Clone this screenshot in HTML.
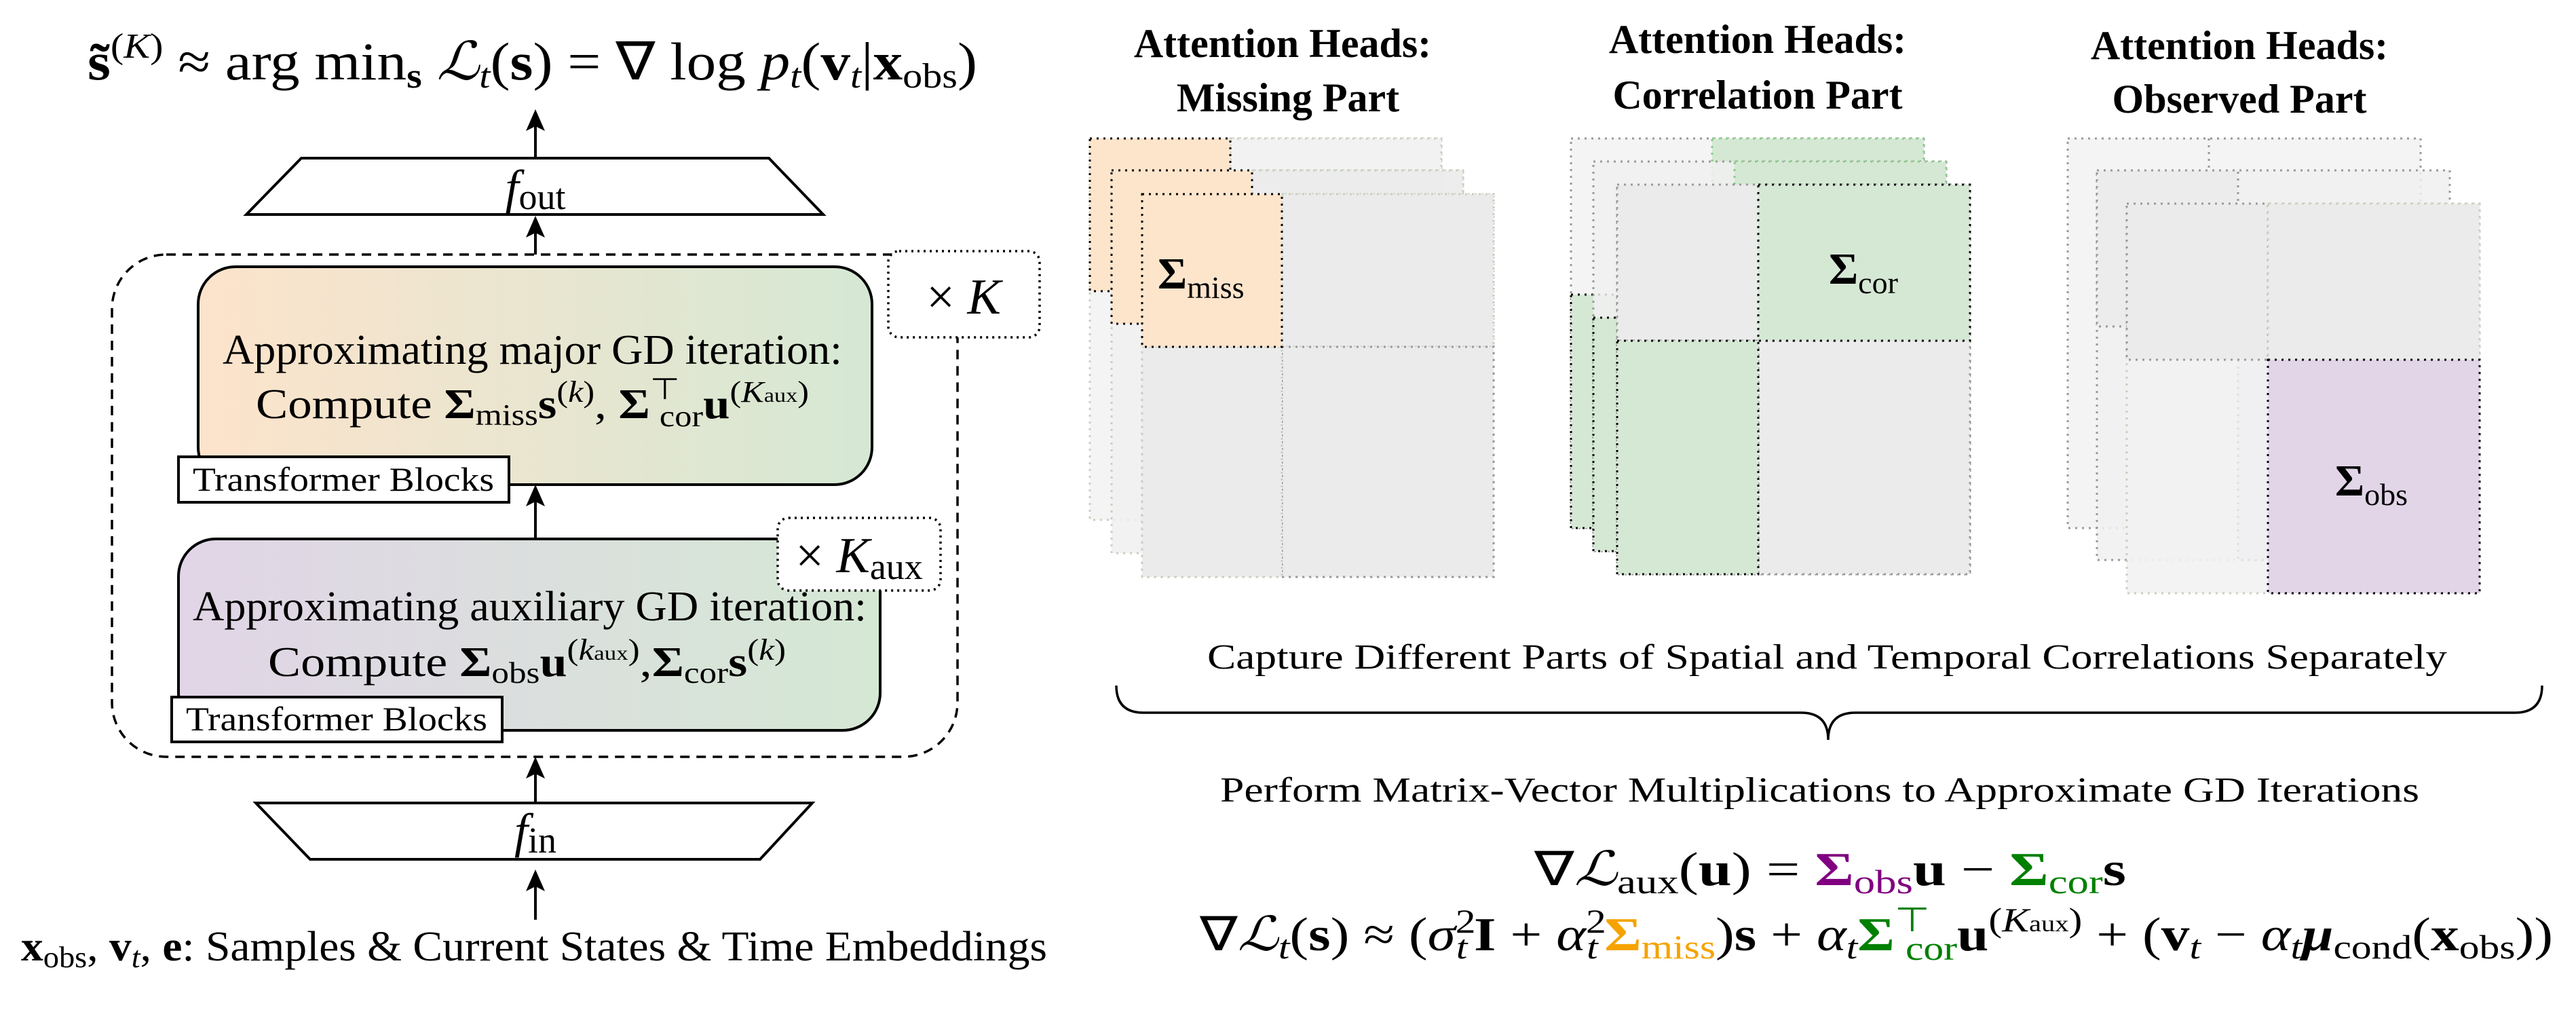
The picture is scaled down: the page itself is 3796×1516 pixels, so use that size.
<!DOCTYPE html>
<html><head><meta charset="utf-8"><style>html,body{margin:0;padding:0;background:#fff}svg{display:block}text{font-family:"Liberation Serif",serif;fill:#000}</style></head><body>
<svg width="3796" height="1516" viewBox="0 0 3796 1516" xmlns="http://www.w3.org/2000/svg">
<defs>
<linearGradient id="g1" x1="0" x2="1" y1="0" y2="0"><stop offset="0" stop-color="#fde3cb"/><stop offset="1" stop-color="#d5e8d4"/></linearGradient>
<linearGradient id="g2" x1="0" x2="1" y1="0" y2="0"><stop offset="0" stop-color="#e1d5e7"/><stop offset="1" stop-color="#d5e8d4"/></linearGradient>
</defs>

<!-- Title -->
<text x="129" y="117" font-size="78" textLength="1311" lengthAdjust="spacingAndGlyphs"><tspan font-weight="bold">s̃</tspan><tspan dy="-32" font-size="52">(</tspan><tspan font-size="52" font-style="italic">K</tspan><tspan font-size="52">)</tspan><tspan dy="32"> ≈ arg min</tspan><tspan dy="12" font-size="52" font-weight="bold">s</tspan><tspan dy="-12" font-style="italic"> ℒ</tspan><tspan dy="12" font-size="52" font-style="italic">t</tspan><tspan dy="-12">(</tspan><tspan font-weight="bold">s</tspan><tspan>) = ∇ log </tspan><tspan font-style="italic">p</tspan><tspan dy="12" font-size="52" font-style="italic">t</tspan><tspan dy="-12">(</tspan><tspan font-weight="bold">v</tspan><tspan dy="12" font-size="52" font-style="italic">t</tspan><tspan dy="-12">|</tspan><tspan font-weight="bold">x</tspan><tspan dy="12" font-size="52">obs</tspan><tspan dy="-12">)</tspan></text>

<g stroke="#000" stroke-width="4" fill="none">
<line x1="789" y1="233" x2="789" y2="185"/>
<line x1="789" y1="375" x2="789" y2="342"/>
<line x1="789" y1="794" x2="789" y2="738"/>
<line x1="789" y1="1183" x2="789" y2="1140"/>
<line x1="789" y1="1355" x2="789" y2="1306"/>
</g>
<g fill="#000">
<polygon points="789,161 775,193 789,186 803,193"/>
<polygon points="789,318 775,350 789,343 803,350"/>
<polygon points="789,714 775,746 789,739 803,746"/>
<polygon points="789,1115 775,1147 789,1140 803,1147"/>
<polygon points="789,1281 775,1313 789,1306 803,1313"/>
</g>

<!-- f_out -->
<polygon points="444,233 1133,233 1213,316 363,316" fill="#fff" stroke="#000" stroke-width="4"/>
<text x="789" y="300" font-size="72" text-anchor="middle"><tspan font-style="italic">f</tspan><tspan dy="8" font-size="54">out</tspan></text>

<!-- dashed container -->
<rect x="165" y="375" width="1246" height="740" rx="80" fill="none" stroke="#000" stroke-width="3.5" stroke-dasharray="14 10"/>
<rect x="1309" y="370" width="223" height="127" rx="16" fill="#fff" stroke="#000" stroke-width="3.5" stroke-dasharray="3 6"/>
<text x="1420" y="462" font-size="74" text-anchor="middle">× <tspan font-style="italic">K</tspan></text>

<!-- upper box -->
<rect x="292" y="393" width="993" height="321" rx="55" fill="url(#g1)" stroke="#000" stroke-width="4"/>
<text x="328" y="536" font-size="62" textLength="913" lengthAdjust="spacingAndGlyphs">Approximating major GD iteration:</text>
<text x="377" y="616" font-size="62" textLength="815" lengthAdjust="spacingAndGlyphs">Compute <tspan font-weight="bold">Σ</tspan><tspan dy="10" font-size="44">miss</tspan><tspan dy="-10" font-weight="bold">s</tspan><tspan dy="-24" font-size="44">(</tspan><tspan font-size="44" font-style="italic">k</tspan><tspan font-size="44">)</tspan><tspan dy="24">, </tspan><tspan font-weight="bold">Σ</tspan><tspan dy="-28" font-size="44">⊤</tspan><tspan dx="-26" dy="40" font-size="44">cor</tspan><tspan dy="-12" font-weight="bold">u</tspan><tspan dy="-24" font-size="44">(</tspan><tspan font-size="44" font-style="italic">K</tspan><tspan font-size="30">aux</tspan><tspan font-size="44">)</tspan></text>
<rect x="263" y="673" width="487" height="67" fill="#fff" stroke="#000" stroke-width="4"/>
<text x="284" y="723" font-size="50" textLength="444" lengthAdjust="spacingAndGlyphs">Transformer Blocks</text>

<!-- lower box -->
<rect x="263" y="794" width="1034" height="282" rx="55" fill="url(#g2)" stroke="#000" stroke-width="4"/>
<rect x="1146" y="763" width="240" height="107" rx="16" fill="#fff" stroke="#000" stroke-width="3.5" stroke-dasharray="3 6"/>
<text x="1266" y="843" font-size="74" text-anchor="middle">× <tspan font-style="italic">K</tspan><tspan dy="10" font-size="54">aux</tspan></text>
<text x="284" y="914" font-size="62" textLength="993" lengthAdjust="spacingAndGlyphs">Approximating auxiliary GD iteration:</text>
<text x="395" y="996" font-size="62" textLength="763" lengthAdjust="spacingAndGlyphs">Compute <tspan font-weight="bold">Σ</tspan><tspan dy="10" font-size="44">obs</tspan><tspan dy="-10" font-weight="bold">u</tspan><tspan dy="-24" font-size="44">(</tspan><tspan font-size="44" font-style="italic">k</tspan><tspan font-size="30">aux</tspan><tspan font-size="44">)</tspan><tspan dy="24">,</tspan><tspan font-weight="bold">Σ</tspan><tspan dy="10" font-size="44">cor</tspan><tspan dy="-10" font-weight="bold">s</tspan><tspan dy="-24" font-size="44">(</tspan><tspan font-size="44" font-style="italic">k</tspan><tspan font-size="44">)</tspan></text>
<rect x="253" y="1027" width="487" height="66" fill="#fff" stroke="#000" stroke-width="4"/>
<text x="274" y="1076" font-size="50" textLength="444" lengthAdjust="spacingAndGlyphs">Transformer Blocks</text>

<!-- f_in -->
<polygon points="377,1183 1197,1183 1120,1266 457,1266" fill="#fff" stroke="#000" stroke-width="4"/>
<text x="789" y="1248" font-size="72" text-anchor="middle"><tspan font-style="italic">f</tspan><tspan dy="8" font-size="54">in</tspan></text>

<text x="31" y="1415" font-size="62" textLength="1512" lengthAdjust="spacingAndGlyphs"><tspan font-weight="bold">x</tspan><tspan dy="10" font-size="44">obs</tspan><tspan dy="-10">, </tspan><tspan font-weight="bold">v</tspan><tspan dy="10" font-size="44" font-style="italic">t</tspan><tspan dy="-10">, </tspan><tspan font-weight="bold">e</tspan><tspan>: Samples &amp; Current States &amp; Time Embeddings</tspan></text>

<!-- headings -->
<g font-weight="bold" font-size="60" text-anchor="middle">
<text x="1890" y="84">Attention Heads:</text>
<text x="1898" y="164">Missing Part</text>
<text x="2590" y="78">Attention Heads:</text>
<text x="2590" y="160">Correlation Part</text>
<text x="3300" y="87">Attention Heads:</text>
<text x="3300" y="166">Observed Part</text>
</g>

<g stroke-width="3" stroke-dasharray="3 7">
<!-- Group 1 -->
<g>
<rect x="1606" y="204" width="518" height="562" fill="#f4f4f4" stroke="#c8d0c0"/>
<rect x="1813" y="204" width="311" height="225" fill="#f2f2f2" stroke="#c8d0c0"/>
<rect x="1606" y="204" width="207" height="225" fill="#fde5cc" stroke="#000"/>
</g>
<g>
<rect x="1638" y="251" width="518" height="564" fill="#f0f0f0" fill-opacity="0.85" stroke="#c8d0c0"/>
<rect x="1845" y="251" width="311" height="226" fill="#ebebeb" fill-opacity="0.8" stroke="#c8d0c0"/>
<line x1="1845" y1="477" x2="1845" y2="815" stroke="#999"/>
<rect x="1638" y="251" width="207" height="226" fill="#fde5cc" stroke="#000"/>
</g>
<g>
<rect x="1683" y="286" width="518" height="564" fill="#f2f2f2" fill-opacity="0.85" stroke="#c8d0c0"/>
<rect x="1889" y="286" width="312" height="225" fill="#ebebeb" stroke="#c8d0c0"/>
<rect x="1889" y="511" width="312" height="339" fill="#ebebeb" stroke="#999"/>
<rect x="1683" y="511" width="206" height="339" fill="#ebebeb" stroke="#c8d0c0"/>
<rect x="1683" y="286" width="206" height="225" fill="#fde5cc" stroke="#000"/>
</g>

<!-- Group 2 -->
<g>
<rect x="2315" y="204" width="520" height="574" fill="#f4f4f4" stroke="#999"/>
<rect x="2523" y="204" width="312" height="230" fill="#d5e8d4" stroke="#8c8"/>
<rect x="2315" y="434" width="208" height="344" fill="#d5e8d4" stroke="#000"/>
</g>
<g>
<rect x="2348" y="238" width="520" height="574" fill="#f0f0f0" fill-opacity="0.85" stroke="#999"/>
<rect x="2556" y="238" width="312" height="230" fill="#d5e8d4" stroke="#8c8"/>
<rect x="2348" y="468" width="208" height="344" fill="#d5e8d4" stroke="#000"/>
</g>
<g>
<rect x="2383" y="272" width="520" height="574" fill="#f2f2f2" stroke="#999"/>
<rect x="2383" y="272" width="208" height="230" fill="#ebebeb" stroke="#999"/>
<rect x="2591" y="502" width="312" height="344" fill="#ebebeb" stroke="#999"/>
<rect x="2591" y="272" width="312" height="230" fill="#d5e8d4" stroke="#000"/>
<rect x="2383" y="502" width="208" height="344" fill="#d5e8d4" stroke="#000"/>
</g>

<!-- Group 3 -->
<g>
<rect x="3047" y="204" width="520" height="574" fill="#f4f4f4" stroke="#999"/>
<line x1="3255" y1="204" x2="3255" y2="434" stroke="#999"/>
<rect x="3255" y="434" width="312" height="344" fill="#e5dde9" stroke="#c8c0cc"/>
</g>
<g>
<rect x="3090" y="251" width="520" height="574" fill="#f0f0f0" fill-opacity="0.85" stroke="#999"/>
<rect x="3090" y="251" width="208" height="230" fill="#ececec" stroke="#999"/>
<rect x="3298" y="481" width="312" height="344" fill="#e2d8e8" stroke="#444"/>
</g>
<g>
<rect x="3134" y="300" width="520" height="574" fill="#f2f2f2" fill-opacity="0.9" stroke="#c8d0c0"/>
<rect x="3134" y="300" width="208" height="230" fill="#ebebeb" stroke="#999"/>
<rect x="3342" y="300" width="312" height="230" fill="#ebebeb" stroke="#c8d0c0"/>
<rect x="3342" y="530" width="312" height="344" fill="#e1d5e7" stroke="#000"/>
</g>
</g>

<text x="1706" y="425" font-size="66"><tspan font-weight="bold">Σ</tspan><tspan dy="14" font-size="46">miss</tspan></text>
<text x="2695" y="418" font-size="66"><tspan font-weight="bold">Σ</tspan><tspan dy="14" font-size="46">cor</tspan></text>
<text x="3441" y="730" font-size="66"><tspan font-weight="bold">Σ</tspan><tspan dy="14" font-size="46">obs</tspan></text>

<text x="1779" y="985" font-size="52" textLength="1827" lengthAdjust="spacingAndGlyphs">Capture Different Parts of Spatial and Temporal Correlations Separately</text>
<path d="M1645,1010 Q1645,1050 1685,1050 L2654,1050 Q2694,1050 2694,1090 Q2694,1050 2734,1050 L3706,1050 Q3746,1050 3746,1010" fill="none" stroke="#000" stroke-width="3.5"/>
<text x="1798" y="1181" font-size="52" textLength="1767" lengthAdjust="spacingAndGlyphs">Perform Matrix-Vector Multiplications to Approximate GD Iterations</text>

<text x="2261" y="1304" font-size="70" textLength="872" lengthAdjust="spacingAndGlyphs">∇<tspan font-style="italic">ℒ</tspan><tspan dy="12" font-size="50">aux</tspan><tspan dy="-12">(</tspan><tspan font-weight="bold">u</tspan>) = <tspan font-weight="bold" fill="#800080">Σ</tspan><tspan dy="12" font-size="50" fill="#800080">obs</tspan><tspan dy="-12" font-weight="bold">u</tspan> − <tspan font-weight="bold" fill="#008000">Σ</tspan><tspan dy="12" font-size="50" fill="#008000">cor</tspan><tspan dy="-12" font-weight="bold">s</tspan></text>

<text x="1768" y="1400" font-size="70" textLength="1994" lengthAdjust="spacingAndGlyphs">∇<tspan font-style="italic">ℒ</tspan><tspan dy="12" font-size="50" font-style="italic">t</tspan><tspan dy="-12">(</tspan><tspan font-weight="bold">s</tspan>) ≈ (<tspan font-style="italic">σ</tspan><tspan dy="-26" font-size="50">2</tspan><tspan dx="-24" dy="38" font-size="50" font-style="italic">t</tspan><tspan dy="-12" dx="8" font-weight="bold">I</tspan> + <tspan font-style="italic">α</tspan><tspan dy="-26" font-size="50">2</tspan><tspan dx="-24" dy="38" font-size="50" font-style="italic">t</tspan><tspan dy="-12" dx="8" font-weight="bold" fill="#f5a300">Σ</tspan><tspan dy="12" font-size="50" fill="#f5a300">miss</tspan><tspan dy="-12">)</tspan><tspan font-weight="bold">s</tspan> + <tspan font-style="italic">α</tspan><tspan dy="12" font-size="50" font-style="italic">t</tspan><tspan dy="-12" font-weight="bold" fill="#008000">Σ</tspan><tspan dy="-28" font-size="50" fill="#008000">⊤</tspan><tspan dx="-30" dy="42" font-size="50" fill="#008000">cor</tspan><tspan dy="-14" font-weight="bold">u</tspan><tspan dy="-28" font-size="50">(</tspan><tspan font-size="50" font-style="italic">K</tspan><tspan font-size="34">aux</tspan><tspan font-size="50">)</tspan><tspan dy="28"> + (</tspan><tspan font-weight="bold">v</tspan><tspan dy="12" font-size="50" font-style="italic">t</tspan><tspan dy="-12"> − </tspan><tspan font-style="italic">α</tspan><tspan dy="12" font-size="50" font-style="italic">t</tspan><tspan dy="-12" font-weight="bold" font-style="italic">μ</tspan><tspan dy="12" font-size="50">cond</tspan><tspan dy="-12">(</tspan><tspan font-weight="bold">x</tspan><tspan dy="12" font-size="50">obs</tspan><tspan dy="-12">))</tspan></text>
</svg>
</body></html>
